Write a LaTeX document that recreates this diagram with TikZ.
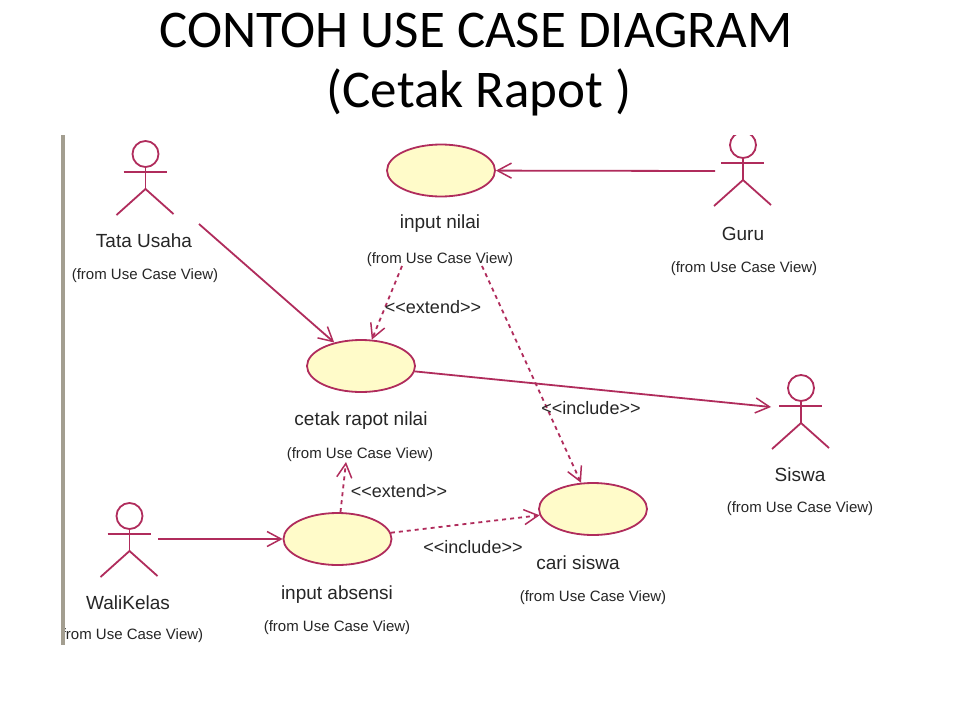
\documentclass[tikz,border=0pt]{standalone}
\usepackage{fontspec}
\setmainfont{Liberation Sans}
\newfontfamily\titlefont{Carlito}
\usetikzlibrary{arrows.meta,shapes.geometric}
\definecolor{umlline}{HTML}{B02C5C}
\definecolor{umlfill}{HTML}{FFFBC9}
\definecolor{umlbar}{HTML}{A39E90}
\definecolor{umltext}{HTML}{262626}
\tikzset{
  usecase/.style={draw=umlline,fill=umlfill,line width=1.8pt,ellipse,minimum width=108pt,minimum height=52pt,inner sep=0pt},
  limb/.style={draw=umlline,line width=1.8pt},
  assoc/.style={draw=umlline,line width=1.8pt,-{Straight Barb[length=14pt,width=15pt,line width=1.5pt]}},
  dep/.style={assoc,dash pattern=on 4pt off 4pt},
  lab/.style={text=umltext,inner sep=0pt,font=\fontsize{19}{22}\selectfont},
  from/.style={text=umltext,inner sep=0pt,font=\fontsize{15}{17}\selectfont},
  stereo/.style={text=umltext,inner sep=0pt,font=\fontsize{18}{20}\selectfont},
  titletext/.style={text=black,inner sep=0pt,font=\titlefont\fontsize{53}{60}\selectfont},
}
\newcommand{\umlactor}[3]{%
  \node[draw=umlline,line width=1.8pt,circle,minimum size=26pt,inner sep=0pt] (#1) at (#2,#3) {};
  \draw[limb] (#1.south) -- (#2,#3+35);
  \draw[limb] (#2-22,#3+18) -- (#2+21,#3+18);
  \draw[limb] (#2-29,#3+61) -- (#2,#3+35) -- (#2+28,#3+60);
}
\begin{document}
\begin{tikzpicture}[x=1pt,y=-1pt]
\useasboundingbox (0,0) rectangle (960,720);
\fill[white] (0,0) rectangle (960,720);
% actors
\umlactor{tata}{145.5}{154}
\umlactor{guru}{743}{145}
\umlactor{siswa}{801}{388}
\umlactor{wali}{129.5}{516}
\fill[white] (600,100) rectangle (900,135);
% use cases
\node[usecase] (nilai) at (441,170.5) {};
\node[usecase] (cetak) at (361,366) {};
\node[usecase] (absensi) at (337.5,539) {};
\node[usecase] (cari) at (593,509) {};
% free ends
\coordinate (tataEnd) at (199,224);
\coordinate (guruEnd) at (715,171);
\coordinate (siswaEnd) at (771,407);
\coordinate (waliEnd) at (158,539);
\coordinate (nilaiA) at (402,266);
\coordinate (nilaiB) at (482,266);
\coordinate (cetakLow) at (346,462);
% connectors
\draw[assoc] (tataEnd) -- (cetak);
\draw[assoc] (guruEnd) -- (nilai);
\draw[assoc] (cetak) -- (siswaEnd);
\draw[assoc] (waliEnd) -- (absensi);
\draw[dep] (nilaiA) -- (cetak);
\draw[dep] (nilaiB) -- (cari);
\draw[dep] (absensi) -- (cetakLow);
\draw[dep] (absensi) -- (cari);
% labels
\node[lab] (l1) at (144,241) {Tata Usaha};
\node[from] (f1) at (145,276) {(from Use Case View)};
\node[lab] (l2) at (440,224) {input nilai};
\node[from] (f2) at (440,260) {(from Use Case View)};
\node[lab] (l3) at (743,234) {Guru};
\node[from] (f3) at (744,269) {(from Use Case View)};
\node[stereo] (s1) at (433,307) {<{}<extend>{}>};
\node[lab] (l4) at (361,421) {cetak rapot nilai};
\node[from] (f4) at (360,455) {(from Use Case View)};
\node[stereo] (s2) at (591,408) {<{}<include>{}>};
\node[lab] (l5) at (800,475) {Siswa};
\node[from] (f5) at (800,509) {(from Use Case View)};
\node[stereo] (s3) at (399,491) {<{}<extend>{}>};
\node[lab] (l6) at (128,603) {WaliKelas};
\node[from] (f6) at (130,636) {(from Use Case View)};
\node[lab] (l7) at (337,595) {input absensi};
\node[from] (f7) at (337,628) {(from Use Case View)};
\node[stereo] (s4) at (473,547) {<{}<include>{}>};
\node[lab] (l8) at (578,563) {cari siswa};
\node[from] (f8) at (593,598) {(from Use Case View)};
% left rule
\fill[white] (0,620) rectangle (61,650);
\fill[umlbar] (60.5,135) rectangle (64.5,645);
% title
\node[titletext] (t1) at (476,30) {CONTOH USE CASE DIAGRAM};
\node[titletext] (t2) at (479,92) {(Cetak Rapot )};
\end{tikzpicture}
\end{document}
